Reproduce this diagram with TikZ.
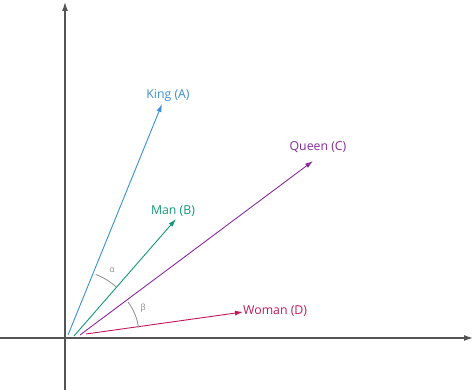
\documentclass[tikz,border=0pt]{standalone}
\usepackage{fontspec}
\setmainfont{Open Sans}
\usetikzlibrary{arrows.meta,calc}
\definecolor{kingc}{HTML}{3B8FD4}
\definecolor{manc}{HTML}{14967A}
\definecolor{queenc}{HTML}{8A2A9A}
\definecolor{womanc}{HTML}{C2185B}
\definecolor{axisc}{HTML}{555555}
\definecolor{arcc}{HTML}{8C8C8C}
\tikzset{
  axisline/.style={draw=axisc, line width=1.2pt, -{Latex[length=9pt,width=6pt]}},
  vec/.style={line width=0.9pt, -{Latex[length=8pt,width=5pt]}},
  lbl/.style={font=\fontsize{12.3}{14}\selectfont, inner sep=1pt},
  anglearc/.style={draw=arcc, line width=0.8pt},
  anglelbl/.style={font=\fontsize{8.5}{10}\selectfont, text=arcc, inner sep=0pt}
}
\begin{document}
\begin{tikzpicture}[x=1pt,y=1pt]
\useasboundingbox (0,0) rectangle (474,390);
% axes
\coordinate (yb) at (65,0);
\coordinate (yt) at (65,388);
\coordinate (xl) at (0,52);
\coordinate (xr) at (473,52);
\draw[axisline] (yb) -- (yt);
\draw[axisline] (xl) -- (xr);
% vectors
\coordinate (ko) at (68,55);
\coordinate (ke) at (162,286);
\coordinate (mo) at (74,54);
\coordinate (me) at (176,171);
\coordinate (qo) at (80,55);
\coordinate (qe) at (313,229);
\coordinate (wo) at (86,56);
\coordinate (we) at (243,78);
\draw[vec, kingc] (ko) -- (ke);
\draw[vec, manc] (mo) -- (me);
\draw[vec, queenc] (qo) -- (qe);
\draw[vec, womanc] (wo) -- (we);
% labels
\node[lbl, text=kingc] (kl) at (168,295) {King (A)};
\node[lbl, text=manc] (ml) at (173,179) {Man (B)};
\node[lbl, text=queenc] (ql) at (318,243) {Queen (C)};
\node[lbl, text=womanc, anchor=west] (wl) at (242,79) {Woman (D)};
% angles
\coordinate (ac) at (72,54);
\coordinate (bc) at (84,55);
\draw[anglearc] ($(ac)+(69:66)$) arc[start angle=69, end angle=48, radius=66];
\draw[anglearc] ($(bc)+(37:55)$) arc[start angle=37, end angle=8, radius=55];
\node[anglelbl] (al) at (112,120) {α};
\node[anglelbl] (bl) at (143,82) {β};
\end{tikzpicture}
\end{document}
